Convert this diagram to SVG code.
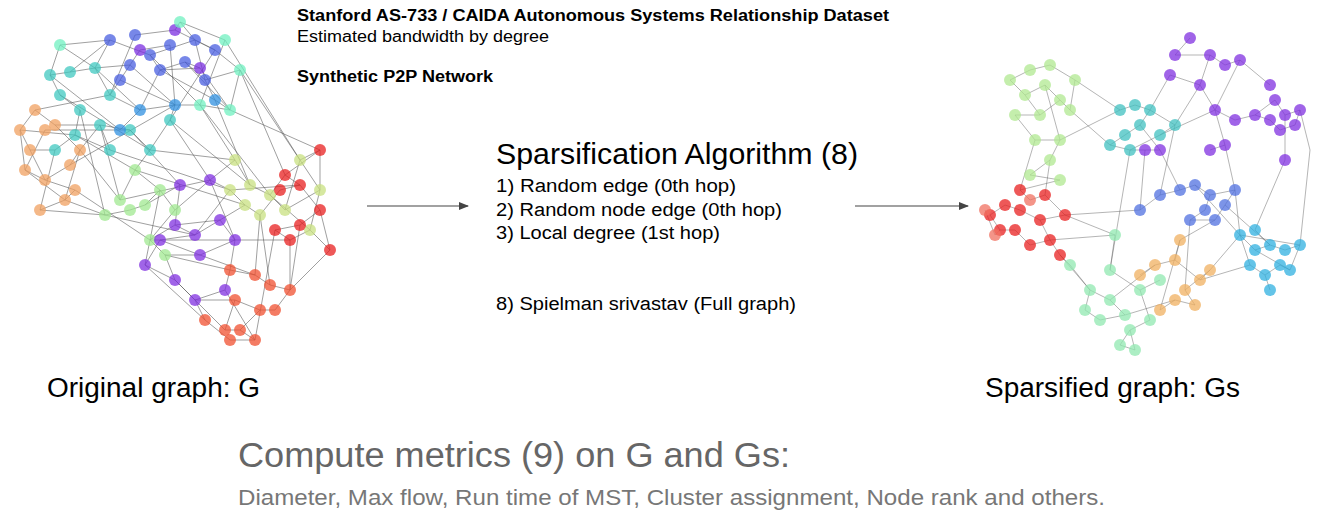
<svg xmlns="http://www.w3.org/2000/svg" width="1330" height="518" viewBox="0 0 1330 518">
<defs>
<style>
.e{fill:none;stroke:#555;stroke-width:0.8;stroke-opacity:0.7}
.n circle{r:6;fill-opacity:0.75}
.t{font-family:"Liberation Sans",Arial,sans-serif;fill:#000}
.b{font-weight:bold;font-size:16px}
.s{font-size:16px}
.l{font-size:18px}
</style>
<marker id="ah" markerWidth="10" markerHeight="10" refX="9" refY="5" orient="auto" markerUnits="userSpaceOnUse"><path d="M0,1 L10,5 L0,9 Z" fill="#444"/></marker>
</defs>
<rect width="1330" height="518" fill="#fff"/>
<g id="connectors">
<path class="e" d="M110,40L150,55L195,40L215,50L240,70L230,110L200,105L175,105L140,110L110,95L95,68L70,72L50,75L60,95L80,110L75,135L55,150L30,150L20,130L35,110L55,125L80,150L100,125L130,130L150,150L170,120L175,105M135,35L175,30L180,22L225,40M160,70L185,62L205,80L215,100L230,110M130,65L120,80L110,95M60,45L95,68L130,65L140,50L170,45M150,55L160,70L200,68L185,62M45,130L25,170L45,180L70,165L80,150M40,210L65,200L75,190L45,180M65,200L105,215L130,210L145,205L160,190L175,210L150,240L165,255L175,280M120,200L135,170L150,150M135,170L160,190M175,210L210,180L235,160L250,185L270,195L285,175L300,185L280,190L260,215L245,205L230,190L210,180M285,210L300,160L320,150L320,190L310,230L290,240L275,230L300,225L320,210L330,250M180,185L175,225L195,235L220,220L235,240L200,255L160,240L145,265L175,280L195,300L225,290L230,270L255,275L270,285L290,290L275,310L260,310L235,300L225,330L240,330L255,340L230,340L205,320L195,300M230,270L235,240M255,275L260,215M290,290L290,240M110,150L75,135M120,130L140,110M200,105L235,160M215,100L250,185M80,110L105,215M130,130L180,185M55,150L40,210M170,120L210,180M240,70L300,160M225,40L200,105M20,130L25,170M150,240L175,225M165,255L200,255M220,220L245,205M285,175L320,150M330,250L290,290M260,310L240,330M300,185L320,210M110,40L60,45M195,40L205,80M100,125L110,150M120,200L100,125M145,265L160,190M270,195L310,230M175,30L215,50M30,150L45,180M75,190L150,240M230,190L195,235M95,68L140,110M200,68L230,110M160,70L140,110M65,200L80,150M50,75L120,130M60,95L150,150M35,110L110,95M45,130L130,130M70,165L175,105M20,130L75,135M110,40L95,68M135,35L110,95M170,45L175,105M215,50L170,120M225,40L300,160M240,70L285,175M230,110L320,150M200,105L270,195M150,150L235,160M110,150L230,190M170,120L250,185M135,170L245,205M120,200L210,180M105,215L195,235M150,240L235,240M165,255L230,270M145,265L205,320M175,280L225,330M200,255L255,275M235,240L290,240M260,215L270,285M275,230L255,340M300,225L290,290M310,230L330,250M320,190L285,210M230,190L300,185M40,210L105,215M25,170L65,200M80,150L120,200M75,135L135,170M55,125L100,125M160,70L215,100M185,62L230,110M130,65L175,105M150,55L200,105M60,45L50,75M70,72L110,40M180,22L195,40M120,80L175,105M205,80L240,70M225,290L255,340M195,300L235,300M160,240L195,235M175,225L220,220M210,180L235,240M180,185L145,205M270,195L285,210M300,160L320,190"/>
<path class="e" style="stroke-opacity:0.55" d="M1010,80L1030,70L1050,65L1075,80L1070,110L1060,100L1045,85L1025,95L1010,80M1040,115L1015,115L1035,140L1060,140L1050,160L1030,175L1060,180M1025,95L1040,115L1060,100M1045,85L1060,140M1190,38L1175,55L1210,55L1225,65L1240,60L1270,85M1170,75L1200,85L1215,110L1235,120L1255,115L1275,100L1285,115L1300,110L1295,125L1280,130L1270,120L1255,115M1285,115L1285,160M1210,150L1225,145L1215,110M1160,150L1145,150L1130,150M1200,85L1210,55M1120,110L1135,105L1150,110L1140,125L1125,135L1110,145L1130,150L1160,135L1175,125L1150,110M1140,125L1160,150M1180,190L1195,185L1210,195L1205,210L1190,220L1215,220L1225,205L1235,190L1210,195M1140,210L1160,195L1180,190M990,215L1005,205L1020,210L1040,220L1050,240L1030,245L1015,230L1000,230L990,215M1060,255L1050,240M1045,195L1065,215L1040,220M1020,190L1030,200L1045,195M985,210L995,235L1000,230M1240,235L1255,250L1270,245L1285,250L1300,245L1290,270L1280,265L1265,275L1250,265L1240,235M1255,230L1270,245M1270,290L1265,275M1140,275L1155,265L1175,260L1200,280L1210,270L1185,290L1195,305L1175,300L1160,310M1180,240L1175,260M1070,265L1090,290L1110,300L1125,315L1100,320L1085,310L1090,290M1110,270L1140,290L1150,320L1130,330L1120,345L1135,350L1130,330M1115,235L1110,270M1160,280L1140,290M1075,80L1120,110M1070,110L1110,145M1060,180L1020,190M1060,140L1120,110M1175,125L1200,85M1160,135L1215,110M1160,150L1180,190M1225,145L1235,190M1285,160L1255,230M1235,190L1240,235M1215,220L1180,240M1065,215L1140,210M1060,255L1070,265M1050,240L1115,235M1160,195L1175,125M1180,240L1160,310M1210,270L1240,235M1200,280L1250,265M1125,315L1175,300M1110,300L1155,265M1065,215L1115,235M1035,140L1020,190M1050,160L1045,195M1240,60L1215,110M1170,75L1150,110M1145,150L1140,210M1300,110L1310,150L1300,245M1130,150L1110,270M1090,290L1060,255M1190,220L1185,290M1225,205L1270,245M1240,235L1300,245M1255,250L1290,270M1195,185L1240,235"/>
<line x1="367" y1="206" x2="468" y2="206" stroke="#444" stroke-width="1.2" marker-end="url(#ah)"/>
<line x1="855" y1="206" x2="968" y2="206" stroke="#444" stroke-width="1.2" marker-end="url(#ah)"/>
</g>
<g id="original-graph" class="n">
<g fill="#4a5fe0"><circle cx="110" cy="40"/><circle cx="135" cy="35"/><circle cx="150" cy="55"/><circle cx="170" cy="45"/><circle cx="195" cy="40"/><circle cx="160" cy="70"/><circle cx="130" cy="65"/><circle cx="185" cy="62"/><circle cx="215" cy="50"/><circle cx="120" cy="80"/><circle cx="205" cy="80"/></g>
<g fill="#7b2fe0"><circle cx="140" cy="50"/><circle cx="175" cy="30"/><circle cx="200" cy="68"/></g>
<g fill="#40c8c0"><circle cx="50" cy="75"/><circle cx="70" cy="72"/><circle cx="95" cy="68"/><circle cx="60" cy="95"/><circle cx="80" cy="110"/><circle cx="110" cy="95"/><circle cx="75" cy="135"/><circle cx="100" cy="125"/><circle cx="130" cy="130"/><circle cx="150" cy="150"/><circle cx="55" cy="150"/><circle cx="170" cy="120"/><circle cx="110" cy="150"/></g>
<g fill="#70f0c0"><circle cx="180" cy="22"/><circle cx="225" cy="40"/><circle cx="240" cy="70"/><circle cx="200" cy="105"/><circle cx="60" cy="45"/><circle cx="230" cy="110"/></g>
<g fill="#3090e0"><circle cx="140" cy="110"/><circle cx="175" cy="105"/><circle cx="215" cy="100"/><circle cx="120" cy="130"/></g>
<g fill="#f0a060"><circle cx="20" cy="130"/><circle cx="35" cy="110"/><circle cx="45" cy="130"/><circle cx="30" cy="150"/><circle cx="55" cy="125"/><circle cx="25" cy="170"/><circle cx="45" cy="180"/><circle cx="70" cy="165"/><circle cx="40" cy="210"/><circle cx="65" cy="200"/><circle cx="80" cy="150"/><circle cx="75" cy="190"/></g>
<g fill="#a0e890"><circle cx="105" cy="215"/><circle cx="130" cy="210"/><circle cx="145" cy="205"/><circle cx="160" cy="190"/><circle cx="175" cy="210"/><circle cx="150" cy="240"/><circle cx="165" cy="255"/><circle cx="120" cy="200"/><circle cx="135" cy="170"/></g>
<g fill="#c8e080"><circle cx="235" cy="160"/><circle cx="250" cy="185"/><circle cx="270" cy="195"/><circle cx="260" cy="215"/><circle cx="285" cy="210"/><circle cx="300" cy="160"/><circle cx="320" cy="190"/><circle cx="310" cy="230"/><circle cx="245" cy="205"/><circle cx="230" cy="190"/></g>
<g fill="#e82020"><circle cx="285" cy="175"/><circle cx="300" cy="185"/><circle cx="280" cy="190"/><circle cx="320" cy="150"/><circle cx="290" cy="240"/><circle cx="300" cy="225"/><circle cx="320" cy="210"/><circle cx="330" cy="250"/><circle cx="275" cy="230"/></g>
<g fill="#8030e0"><circle cx="180" cy="185"/><circle cx="210" cy="180"/><circle cx="175" cy="225"/><circle cx="195" cy="235"/><circle cx="220" cy="220"/><circle cx="235" cy="240"/><circle cx="145" cy="265"/><circle cx="175" cy="280"/><circle cx="195" cy="300"/><circle cx="225" cy="290"/><circle cx="160" cy="240"/><circle cx="200" cy="255"/></g>
<g fill="#f05030"><circle cx="230" cy="270"/><circle cx="255" cy="275"/><circle cx="270" cy="285"/><circle cx="290" cy="290"/><circle cx="235" cy="300"/><circle cx="260" cy="310"/><circle cx="225" cy="330"/><circle cx="240" cy="330"/><circle cx="230" cy="340"/><circle cx="255" cy="340"/><circle cx="205" cy="320"/><circle cx="275" cy="310"/></g>
</g>
<g id="sparsified-graph" class="n">
<g fill="#b0e890"><circle cx="1010" cy="80"/><circle cx="1030" cy="70"/><circle cx="1050" cy="65"/><circle cx="1045" cy="85"/><circle cx="1025" cy="95"/><circle cx="1060" cy="100"/><circle cx="1070" cy="110"/><circle cx="1040" cy="115"/><circle cx="1015" cy="115"/><circle cx="1035" cy="140"/><circle cx="1060" cy="140"/><circle cx="1050" cy="160"/><circle cx="1030" cy="175"/><circle cx="1060" cy="180"/><circle cx="1075" cy="80"/></g>
<g fill="#8030e0"><circle cx="1190" cy="38"/><circle cx="1175" cy="55"/><circle cx="1210" cy="55"/><circle cx="1225" cy="65"/><circle cx="1240" cy="60"/><circle cx="1170" cy="75"/><circle cx="1200" cy="85"/><circle cx="1215" cy="110"/><circle cx="1235" cy="120"/><circle cx="1255" cy="115"/><circle cx="1275" cy="100"/><circle cx="1285" cy="115"/><circle cx="1295" cy="125"/><circle cx="1280" cy="130"/><circle cx="1270" cy="120"/><circle cx="1300" cy="110"/><circle cx="1285" cy="160"/><circle cx="1210" cy="150"/><circle cx="1225" cy="145"/><circle cx="1160" cy="150"/><circle cx="1145" cy="150"/><circle cx="1270" cy="85"/></g>
<g fill="#40c0c0"><circle cx="1120" cy="110"/><circle cx="1135" cy="105"/><circle cx="1150" cy="110"/><circle cx="1140" cy="125"/><circle cx="1125" cy="135"/><circle cx="1160" cy="135"/><circle cx="1175" cy="125"/><circle cx="1130" cy="150"/><circle cx="1110" cy="145"/></g>
<g fill="#5070e0"><circle cx="1180" cy="190"/><circle cx="1195" cy="185"/><circle cx="1210" cy="195"/><circle cx="1205" cy="210"/><circle cx="1190" cy="220"/><circle cx="1215" cy="220"/><circle cx="1225" cy="205"/><circle cx="1235" cy="190"/><circle cx="1140" cy="210"/><circle cx="1160" cy="195"/></g>
<g fill="#e82020"><circle cx="990" cy="215"/><circle cx="1005" cy="205"/><circle cx="1020" cy="210"/><circle cx="1040" cy="220"/><circle cx="1050" cy="240"/><circle cx="1030" cy="245"/><circle cx="1015" cy="230"/><circle cx="1060" cy="255"/><circle cx="1000" cy="230"/><circle cx="1045" cy="195"/><circle cx="1065" cy="215"/><circle cx="1020" cy="190"/></g>
<g fill="#f07060"><circle cx="985" cy="210"/><circle cx="995" cy="235"/><circle cx="1030" cy="200"/></g>
<g fill="#30b0e0"><circle cx="1240" cy="235"/><circle cx="1255" cy="250"/><circle cx="1270" cy="245"/><circle cx="1285" cy="250"/><circle cx="1300" cy="245"/><circle cx="1280" cy="265"/><circle cx="1265" cy="275"/><circle cx="1290" cy="270"/><circle cx="1250" cy="265"/><circle cx="1270" cy="290"/><circle cx="1255" cy="230"/></g>
<g fill="#f0b060"><circle cx="1140" cy="275"/><circle cx="1155" cy="265"/><circle cx="1175" cy="260"/><circle cx="1185" cy="290"/><circle cx="1200" cy="280"/><circle cx="1210" cy="270"/><circle cx="1195" cy="305"/><circle cx="1175" cy="300"/><circle cx="1180" cy="240"/><circle cx="1160" cy="310"/></g>
<g fill="#90e8b0"><circle cx="1070" cy="265"/><circle cx="1090" cy="290"/><circle cx="1110" cy="300"/><circle cx="1125" cy="315"/><circle cx="1110" cy="270"/><circle cx="1140" cy="290"/><circle cx="1130" cy="330"/><circle cx="1120" cy="345"/><circle cx="1135" cy="350"/><circle cx="1100" cy="320"/><circle cx="1150" cy="320"/><circle cx="1085" cy="310"/><circle cx="1115" cy="235"/><circle cx="1160" cy="280"/></g>
</g>
<g id="header">
<text class="t b" x="297" y="21" textLength="592" lengthAdjust="spacingAndGlyphs">Stanford AS-733 / CAIDA Autonomous Systems Relationship Dataset</text>
<text class="t s" x="297" y="42" textLength="252" lengthAdjust="spacingAndGlyphs">Estimated bandwidth by degree</text>
<text class="t b" x="297" y="82" textLength="196" lengthAdjust="spacingAndGlyphs">Synthetic P2P Network</text>
</g>
<g id="algorithm">
<text class="t" x="496" y="164" font-size="29" textLength="362" lengthAdjust="spacingAndGlyphs">Sparsification Algorithm (8)</text>
<text class="t l" x="496" y="192" textLength="240" lengthAdjust="spacingAndGlyphs">1) Random edge (0th hop)</text>
<text class="t l" x="496" y="216" textLength="286" lengthAdjust="spacingAndGlyphs">2) Random node edge (0th hop)</text>
<text class="t l" x="496" y="239" textLength="224" lengthAdjust="spacingAndGlyphs">3) Local degree (1st hop)</text>
<text class="t l" x="496" y="310" textLength="300" lengthAdjust="spacingAndGlyphs">8) Spielman srivastav (Full graph)</text>
</g>
<g id="labels">
<text class="t" x="47" y="397" font-size="27" textLength="213" lengthAdjust="spacingAndGlyphs">Original graph: G</text>
<text class="t" x="985" y="397" font-size="27" textLength="255" lengthAdjust="spacingAndGlyphs">Sparsified graph: Gs</text>
<text class="t" x="238" y="467" font-size="35" textLength="552" lengthAdjust="spacingAndGlyphs" style="fill:#666">Compute metrics (9) on G and Gs:</text>
<text class="t" x="238" y="505" font-size="22" textLength="867" lengthAdjust="spacingAndGlyphs" style="fill:#777">Diameter, Max flow, Run time of MST, Cluster assignment, Node rank and others.</text>
</g>
</svg>
